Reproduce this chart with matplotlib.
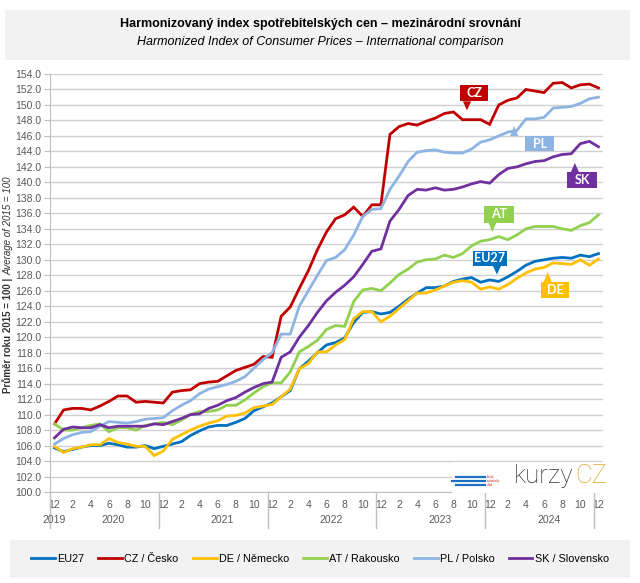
import matplotlib.pyplot as plt
import numpy as np
from matplotlib.patches import Rectangle, Polygon
from matplotlib.lines import Line2D

plt.rcParams['font.family'] = ['Liberation Sans', 'DejaVu Sans']

# monthly HICP, 12/2019 .. 12/2024 (2015 = 100)
eu27 = [105.7, 105.2, 105.5, 105.8, 106.0, 106.0, 106.3, 106.1, 105.8, 105.8, 106.0, 105.6,
        105.9, 106.2, 106.5, 107.3, 107.9, 108.4, 108.6, 108.6, 109.0, 109.5, 110.5, 111.0,
        111.5, 112.3, 113.1, 115.9, 116.9, 118.0, 119.0, 119.3, 119.9, 121.9, 123.2, 123.3,
        123.0, 123.2, 124.0, 124.9, 125.7, 126.4, 126.4, 126.6, 127.2, 127.5, 127.7, 127.1,
        127.4, 127.2, 127.8, 128.5, 129.3, 129.8, 130.0, 130.2, 130.3, 130.2, 130.6, 130.4,
        130.8]
cz = [108.8, 110.6, 110.8, 110.8, 110.6, 111.1, 111.7, 112.4, 112.4, 111.6, 111.7, 111.6,
      111.5, 112.9, 113.1, 113.2, 114.0, 114.2, 114.3, 115.0, 115.7, 116.1, 116.5, 117.5,
      117.4, 122.7, 123.9, 126.3, 128.6, 131.3, 133.6, 135.3, 135.8, 136.8, 135.6, 137.1,
      137.1, 146.2, 147.2, 147.6, 147.4, 147.9, 148.3, 148.9, 149.1, 148.1, 148.1, 148.1,
      147.5, 150.0, 150.6, 150.9, 152.0, 151.8, 151.6, 152.8, 152.9, 152.2, 152.6, 152.7,
      152.2]
de = [105.9, 105.1, 105.6, 105.8, 106.1, 106.1, 106.9, 106.4, 106.2, 105.9, 105.9, 104.7,
      105.3, 106.8, 107.4, 108.0, 108.5, 108.9, 109.2, 109.8, 109.9, 110.2, 110.9, 111.1,
      111.3, 112.3, 113.3, 115.9, 116.6, 118.1, 118.1, 119.0, 119.7, 122.4, 123.3, 123.3,
      122.0, 122.7, 123.7, 124.7, 125.7, 125.7, 126.1, 126.6, 127.1, 127.3, 127.1, 126.2,
      126.5, 126.2, 126.8, 127.6, 128.3, 128.8, 129.0, 129.6, 129.5, 129.4, 130.0, 129.3,
      130.1]
at = [108.8, 108.0, 108.0, 108.3, 108.6, 108.8, 107.8, 108.3, 108.3, 108.0, 108.6, 108.8,
      109.0, 108.7, 109.3, 110.0, 110.4, 110.4, 110.6, 111.2, 111.2, 111.9, 112.8, 113.6,
      114.1, 114.1, 115.5, 118.1, 118.8, 119.6, 121.0, 121.5, 121.4, 124.6, 126.1, 126.3,
      126.0, 127.0, 128.1, 128.8, 129.7, 130.0, 130.1, 130.6, 130.3, 130.8, 131.8, 132.4,
      132.6, 133.0, 132.6, 133.2, 134.0, 134.3, 134.3, 134.3, 134.0, 133.8, 134.4, 134.8,
      135.8]
pl = [106.2, 106.9, 107.4, 107.7, 107.8, 108.5, 109.1, 109.0, 108.9, 109.1, 109.4, 109.5,
      109.6, 110.5, 111.2, 111.8, 112.7, 113.3, 113.6, 113.9, 114.3, 114.9, 116.0, 117.1,
      118.0, 120.4, 120.4, 124.0, 126.0, 128.0, 129.9, 130.3, 131.3, 133.2, 135.6, 136.5,
      136.6, 139.1, 140.8, 142.7, 143.9, 144.1, 144.2, 143.9, 143.8, 143.8, 144.3, 145.2,
      145.5, 146.0, 146.5, 146.7, 148.2, 148.2, 148.4, 149.6, 149.7, 149.8, 150.2, 150.8,
      151.0]
sk = [107.0, 108.1, 108.4, 108.3, 108.3, 108.7, 108.3, 108.5, 108.5, 108.5, 108.5, 108.8,
      108.7, 109.1, 109.5, 110.0, 110.1, 110.8, 111.2, 111.8, 112.2, 112.9, 113.5, 114.0,
      114.2, 117.4, 118.1, 120.0, 121.5, 123.2, 124.7, 125.8, 126.7, 127.8, 129.4, 131.1,
      131.4, 135.0, 136.5, 138.3, 139.1, 139.0, 139.3, 139.0, 139.1, 139.4, 139.8, 140.1,
      139.9, 141.0, 141.8, 142.0, 142.4, 142.7, 142.8, 143.3, 143.6, 143.7, 145.0, 145.3,
      144.6]

legend_names = ['EU27', 'CZ / Česko', 'DE / Německo', 'AT / Rakousko', 'PL / Polsko', 'SK / Slovensko']
colors = ['#0070C0', '#C00000', '#FFC000', '#92D050', '#8DB4E2', '#7030A0']
series = [eu27, cz, de, at, pl, sk]
years = ['2019', '2020', '2021', '2022', '2023', '2024']
year_centers = [0, 6.5, 18.5, 30.5, 42.5, 54.5]

# callouts: text, box centre (month idx, value), pointer tip, box size in px
callouts = [
    ('CZ', 46.3, 151.5, 45.5, 149.3, 28, 16, '#C00000'),
    ('PL', 53.5, 145.0, 50.7, 147.3, 29, 15, '#8DB4E2'),
    ('SK', 58.2, 140.3, 57.4, 142.5, 30, 16, '#7030A0'),
    ('AT', 49.0, 135.9, 48.3, 133.6, 30, 17, '#92D050'),
    ('EU27', 48.0, 130.2, 48.8, 128.1, 34, 15, '#0070C0'),
    ('DE', 55.2, 126.1, 54.4, 128.4, 28, 16, '#FFC000'),
]

W, H = 640, 583
def fx(x): return x / W
def fy(y): return 1 - y / H

fig = plt.figure(figsize=(6.4, 5.83), dpi=100)
ax = fig.add_axes([fx(50), fy(492), fx(603) - fx(50), fy(74) - fy(492)])

x = np.arange(len(eu27))
for s, c, name in zip(series, colors, legend_names):
    ax.plot(x, s, color=c, lw=2.0, label=name, solid_joinstyle='miter', zorder=3)

ax.set_xlim(-0.5, 60.5)
ax.set_ylim(100, 154)
ax.set_yticks(np.arange(100, 154.1, 2))
ax.set_yticklabels([f'{v:.1f}' for v in np.arange(100, 154.1, 2)])
ax.grid(axis='y', color='#d0d0d0', lw=1.0)
ax.set_axisbelow(True)
for sp in ['top', 'right']:
    ax.spines[sp].set_visible(False)
ax.spines['left'].set_color('#bfbfbf')
ax.spines['bottom'].set_color('#bfbfbf')
ax.tick_params(axis='y', colors='#bfbfbf', labelcolor='#595959', labelsize=7.5, length=4, pad=2)

xt = list(range(0, 61, 2))
ax.set_xticks(xt)
ax.set_xticklabels([str((i + 11) % 12 + 1) for i in xt])
ax.tick_params(axis='x', length=0, labelcolor='#595959', labelsize=7.5, pad=6)

for yr, xc in zip(years, year_centers):
    ax.text(xc, -0.068, yr, transform=ax.get_xaxis_transform(), ha='center', va='center',
            fontsize=7.5, color='#595959')
for sx in [-0.5, 11.5, 23.5, 35.5, 47.5, 59.5]:
    ax.plot([sx, sx], [0, -0.085], transform=ax.get_xaxis_transform(), color='#bfbfbf',
            lw=1.0, clip_on=False)

# callout labels
px_x = 553 / 61.0
px_y = 418 / 54.0
for t, cx, cy, tx, ty, bw, bh, c in callouts:
    w = bw / px_x
    h = bh / px_y
    ax.add_patch(Rectangle((cx - w / 2, cy - h / 2), w, h, facecolor=c, edgecolor='none', zorder=5))
    edge = cy - h / 2 if ty < cy else cy + h / 2
    ax.add_patch(Polygon([(tx - 0.45, edge), (tx + 0.45, edge), (tx, ty)], closed=True,
                         facecolor=c, edgecolor='none', zorder=5))
    ax.text(cx, cy, t, ha='center', va='center', color='white', fontsize=9,
            fontweight='bold', family='Lato', zorder=6)

# title box
fig.add_artist(Rectangle((fx(5), fy(60)), fx(630) - fx(5), fy(10) - fy(60),
                         transform=fig.transFigure, facecolor='#f2f2f2', edgecolor='none', zorder=-5))
fig.text(0.5, fy(24), 'Harmonizovaný index spotřebitelských cen – mezinárodní srovnání',
         ha='center', va='center', fontsize=9, fontweight='bold', color='black')
fig.text(0.5, fy(42), 'Harmonized Index of Consumer Prices – International comparison',
         ha='center', va='center', fontsize=9, style='italic', color='black')

# y label in two styles
fig.text(fx(8), fy(278), 'Průměr roku 2015 = 100 |', rotation=90, ha='center', va='top',
         fontsize=7, fontweight='bold', color='#333333')
fig.text(fx(8), fy(275), 'Average of 2015 = 100', rotation=90, ha='center', va='bottom',
         fontsize=7, style='italic', color='#333333')

# logos
fig.add_artist(Rectangle((fx(452), fy(493)), fx(608) - fx(452), fy(462) - fy(493),
                         transform=fig.transFigure, facecolor='white', edgecolor='none', zorder=4))
for i, yy in enumerate([477, 481, 485]):
    x0 = 456 if i != 1 else 452
    fig.add_artist(Line2D([fx(x0), fx(485)], [fy(yy), fy(yy)], color='#1e6fc0', lw=1.6, zorder=5))
fig.text(fx(487), fy(481), 'český\nstatistický\núřad', fontsize=2.2, color='#d62a2a',
         ha='left', va='center', linespacing=1.0, zorder=6)
kurzy = fig.text(fx(514), fy(476), 'kurzy', fontsize=18.5, color='#333333', ha='left', va='center',
                 family='Roboto', fontweight='light', zorder=6)
bb = kurzy.get_window_extent(fig.canvas.get_renderer())
fig.text(bb.x1 / W + fx(2), fy(476), 'CZ', fontsize=18.5, color='#E0A730', ha='left', va='center',
         family='Roboto', fontweight='light', zorder=6)

# legend box
fig.add_artist(Rectangle((fx(10), fy(578)), fx(630) - fx(10), fy(540) - fy(578),
                         transform=fig.transFigure, facecolor='#f2f2f2', edgecolor='none', zorder=-5))
handles, labels = ax.get_legend_handles_labels()
fig.legend(handles, labels, loc='center', bbox_to_anchor=(0.5, fy(559)), ncol=6, frameon=False,
           fontsize=7.8, handlelength=2.2, handletextpad=0.2, columnspacing=1.3)

fig.savefig('out.png', dpi=100)
